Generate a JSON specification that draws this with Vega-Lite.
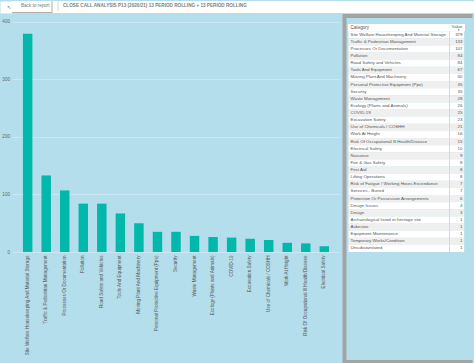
{
  "$schema": "https://vega.github.io/schema/vega-lite/v6.json",
  "padding": 0,
  "autosize": {"type": "pad"},
  "background": "#b4deec",
  "spacing": 0,
  "columns": 1,
  "align": "none",
  "config": {"view": {"stroke": null}, "font": "Liberation Sans"},
  "datasets": {
    "rows": [
      {"rank": 1, "category": "Site Welfare Housekeeping And Material Storage", "value": 379},
      {"rank": 2, "category": "Traffic & Pedestrian Management", "value": 133},
      {"rank": 3, "category": "Processes Or Documentation", "value": 107},
      {"rank": 4, "category": "Pollution", "value": 84},
      {"rank": 5, "category": "Road Safety and Vehicles", "value": 84},
      {"rank": 6, "category": "Tools And Equipment", "value": 67},
      {"rank": 7, "category": "Moving Plant And Machinery", "value": 50},
      {"rank": 8, "category": "Personal Protective Equipment (Ppe)", "value": 35},
      {"rank": 9, "category": "Security", "value": 35},
      {"rank": 10, "category": "Waste Management", "value": 28},
      {"rank": 11, "category": "Ecology (Plants and Animals)", "value": 26},
      {"rank": 12, "category": "COVID-19", "value": 25},
      {"rank": 13, "category": "Excavation Safety", "value": 23},
      {"rank": 14, "category": "Use of Chemicals / COSHH", "value": 21},
      {"rank": 15, "category": "Work At Height", "value": 16},
      {"rank": 16, "category": "Risk Of Occupational Ill Health/Disease", "value": 15},
      {"rank": 17, "category": "Electrical Safety", "value": 10},
      {"rank": 18, "category": "Nuisance", "value": 9},
      {"rank": 19, "category": "Fire & Gas Safety", "value": 8},
      {"rank": 20, "category": "First Aid", "value": 8},
      {"rank": 21, "category": "Lifting Operations", "value": 8},
      {"rank": 22, "category": "Risk of Fatigue / Working Hours Exceedance", "value": 7},
      {"rank": 23, "category": "Services - Buried", "value": 7},
      {"rank": 24, "category": "Protection Or Possession Arrangements", "value": 6},
      {"rank": 25, "category": "Design Issues", "value": 4},
      {"rank": 26, "category": "Design", "value": 3},
      {"rank": 27, "category": "Archaeological listed or heritage site", "value": 1},
      {"rank": 28, "category": "Asbestos", "value": 1},
      {"rank": 29, "category": "Equipment Maintenance", "value": 1},
      {"rank": 30, "category": "Temporary Works/Condition", "value": 1},
      {"rank": 31, "category": "Unsubstantiated", "value": 1}
    ]
  },
  "concat": [
    {
      "width": 462,
      "height": 12,
      "view": {"fill": "#ffffff", "stroke": null},
      "data": {"values": [{"button": "Back to report", "icon": "\u2196", "title": "CLOSE CALL ANALYSIS P13 (2020/21) 13 PERIOD ROLLING + 13 PERIOD ROLLING"}]},
      "layer": [
        {
          "mark": {"type": "rect", "fill": "#ffffff", "stroke": "#9a9a9a", "strokeWidth": 0.8, "clip": true},
          "encoding": {
            "x": {"datum": 5, "type": "quantitative", "scale": {"domain": [12, 474], "nice": false, "zero": false}, "axis": null},
            "x2": {"datum": 52},
            "y": {"datum": -2, "type": "quantitative", "scale": {"domain": [0, 12], "reverse": true, "nice": false, "zero": false},
                  "axis": {"title": null, "labels": false, "ticks": false, "grid": false, "offset": 6, "domainWidth": 12, "domainColor": "#ffffff", "domainCap": "butt"}},
            "y2": {"datum": 11.5}
          }
        },
        {
          "mark": {"type": "text", "align": "left", "baseline": "middle", "fontSize": 4.6, "color": "#777777"},
          "encoding": {"x": {"datum": 21, "type": "quantitative"}, "y": {"datum": 5, "type": "quantitative"}, "text": {"field": "button"}}
        },
        {
          "mark": {"type": "text", "align": "left", "baseline": "middle", "fontSize": 5, "color": "#777777"},
          "encoding": {"x": {"datum": 7, "type": "quantitative"}, "y": {"datum": 6, "type": "quantitative"}, "text": {"field": "icon"}}
        },
        {
          "mark": {"type": "rule", "color": "#cccccc", "strokeWidth": 0.8},
          "encoding": {"x": {"datum": 58, "type": "quantitative"}, "y": {"datum": 0, "type": "quantitative"}, "y2": {"datum": 10}}
        },
        {
          "mark": {"type": "text", "align": "left", "baseline": "middle", "fontSize": 4.65, "fontWeight": "bold", "color": "#808080"},
          "encoding": {"x": {"datum": 63, "type": "quantitative"}, "y": {"datum": 5, "type": "quantitative"}, "text": {"field": "title"}}
        }
      ]
    },
    {
      "spacing": 1.5,
      "hconcat": [
        {
          "width": 328,
          "height": 236,
          "data": {"name": "rows"},
          "transform": [{"filter": "datum.rank <= 17"}],
          "mark": {"type": "bar", "color": "#01b8aa"},
          "encoding": {
            "x": {
              "field": "category", "type": "nominal", "sort": null,
              "scale": {"paddingInner": 0.49, "paddingOuter": 0.59},
              "axis": {"title": null, "labelAngle": -90, "labelFontSize": 4.6, "labelColor": "#555555", "labelPadding": 3, "ticks": false, "domain": false, "labelLimit": 200}
            },
            "y": {
              "field": "value", "type": "quantitative",
              "scale": {"domain": [0, 410], "nice": false},
              "axis": {"title": null, "values": [0, 100, 200, 300, 400], "labelFontSize": 4.6, "labelColor": "#666666", "ticks": false, "domain": false, "gridColor": "#c9e7f2", "gridWidth": 1, "labelPadding": 2.5, "minExtent": 12, "maxExtent": 12}
            }
          }
        },
        {
          "width": 128,
          "height": 346,
          "resolve": {"scale": {"y": "independent"}},
          "layer": [
            {
              "data": {"name": "rows"},
              "encoding": {
                "y": {
                  "field": "category", "type": "nominal", "sort": null,
                  "scale": {
                    "domain": ["Category", "Site Welfare Housekeeping And Material Storage", "Traffic & Pedestrian Management", "Processes Or Documentation", "Pollution", "Road Safety and Vehicles", "Tools And Equipment", "Moving Plant And Machinery", "Personal Protective Equipment (Ppe)", "Security", "Waste Management", "Ecology (Plants and Animals)", "COVID-19", "Excavation Safety", "Use of Chemicals / COSHH", "Work At Height", "Risk Of Occupational Ill Health/Disease", "Electrical Safety", "Nuisance", "Fire & Gas Safety", "First Aid", "Lifting Operations", "Risk of Fatigue / Working Hours Exceedance", "Services - Buried", "Protection Or Possession Arrangements", "Design Issues", "Design", "Archaeological listed or heritage site", "Asbestos", "Equipment Maintenance", "Temporary Works/Condition", "Unsubstantiated"],
                    "range": [8, 236], "paddingInner": 0, "paddingOuter": 0
                  },
                  "axis": null
                }
              },
              "layer": [
                {
                  "mark": {"type": "rect", "fill": "#bfe1ea"},
                  "encoding": {
                    "x": {"datum": 3.5, "type": "quantitative", "scale": {"domain": [0, 128], "nice": false, "zero": false}, "axis": null},
                    "x2": {"datum": 120.5}
                  }
                },
                {
                  "data": {"values": [{"header": "Category", "value": "Value", "arrow": "\u25bc"}]},
                  "layer": [
                    {
                      "mark": {"type": "rect", "fill": "#ffffff"},
                      "encoding": {"x": {"datum": 3.5, "type": "quantitative"}, "x2": {"datum": 120.5}, "y": {"datum": "Category"}}
                    },
                    {
                      "mark": {"type": "text", "align": "left", "baseline": "middle", "fontSize": 4.6, "color": "#555555"},
                      "encoding": {"x": {"datum": 6, "type": "quantitative"}, "y": {"datum": "Category"}, "text": {"field": "header"}}
                    },
                    {
                      "mark": {"type": "text", "align": "right", "baseline": "middle", "fontSize": 4.4, "color": "#555555", "dy": -1},
                      "encoding": {"x": {"datum": 118, "type": "quantitative"}, "y": {"datum": "Category"}, "text": {"field": "value"}}
                    },
                    {
                      "mark": {"type": "text", "align": "center", "baseline": "middle", "fontSize": 2.6, "color": "#333333", "dy": 2.6},
                      "encoding": {"x": {"datum": 114, "type": "quantitative"}, "y": {"datum": "Category"}, "text": {"field": "arrow"}}
                    }
                  ]
                },
                {
                  "mark": {"type": "rect"},
                  "encoding": {
                    "x": {"datum": 4, "type": "quantitative"},
                    "x2": {"datum": 104.5},
                    "fill": {"condition": {"test": "datum.rank % 2 == 0", "value": "#efefef"}, "value": "#ffffff"}
                  }
                },
                {
                  "mark": {"type": "rect"},
                  "encoding": {
                    "x": {"datum": 105.5, "type": "quantitative"},
                    "x2": {"datum": 119.5},
                    "fill": {"condition": {"test": "datum.rank % 2 == 0", "value": "#efefef"}, "value": "#ffffff"}
                  }
                },
                {
                  "mark": {"type": "text", "align": "left", "baseline": "middle", "fontSize": 4.4, "color": "#555555"},
                  "encoding": {"x": {"datum": 6, "type": "quantitative"}, "text": {"field": "category"}}
                },
                {
                  "mark": {"type": "text", "align": "right", "baseline": "middle", "fontSize": 4.4, "color": "#555555"},
                  "encoding": {"x": {"datum": 118, "type": "quantitative"}, "text": {"field": "value"}}
                }
              ]
            },
            {
              "data": {"values": [{"edge": "panel"}]},
              "layer": [
                {
                  "mark": {"type": "rule", "color": "#a3a3a3", "strokeWidth": 4, "strokeCap": "square"},
                  "encoding": {
                    "x": {"datum": 0, "type": "quantitative"},
                    "y": {"datum": 0, "type": "quantitative", "scale": {"domain": [0, 1], "nice": false, "zero": false}, "axis": null},
                    "y2": {"datum": 1}
                  }
                },
                {
                  "mark": {"type": "rule", "color": "#a3a3a3", "strokeWidth": 4},
                  "encoding": {
                    "x": {"datum": 0, "type": "quantitative"},
                    "x2": {"datum": 128},
                    "y": {"datum": 1, "type": "quantitative"}
                  }
                },
                {
                  "mark": {"type": "rule", "color": "#a3a3a3", "strokeWidth": 4},
                  "encoding": {
                    "x": {"datum": 0, "type": "quantitative"},
                    "x2": {"datum": 128},
                    "y": {"datum": 0, "type": "quantitative"}
                  }
                }
              ]
            }
          ]
        }
      ]
    }
  ]
}
